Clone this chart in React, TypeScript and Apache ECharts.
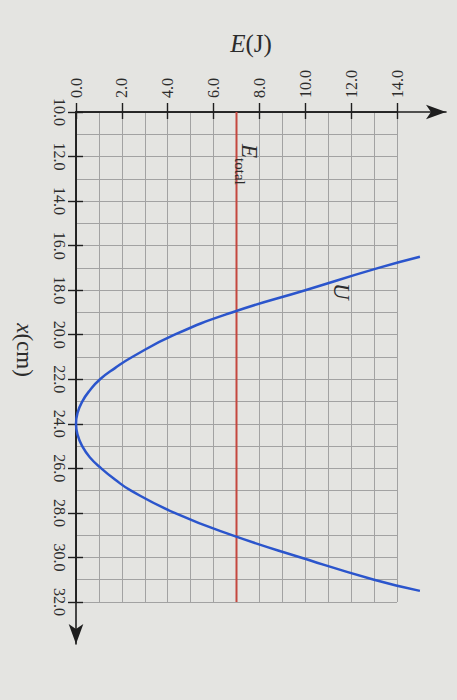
import React, { useEffect, useRef } from "react";
import * as echarts from "echarts";

// x position (cm) and potential energy U (J)
const X_CM = [16.5, 17, 18, 19, 20, 21, 21.5, 22, 22.5, 23, 23.5, 24, 24.5, 25, 25.5, 26, 26.5, 27, 28, 29, 30, 31, 31.5];
const U_J = [15.0, 13.2, 10.0, 6.8, 4.3, 2.45, 1.7, 1.05, 0.6, 0.27, 0.07, 0, 0.07, 0.27, 0.6, 1.1, 1.7, 2.4, 4.3, 6.8, 9.8, 13.0, 15.0];
const E_TOTAL = 7;
const X_RANGE = [10, 32];
const E_RANGE = [0, 14];
const TICK_STEP = 2;

const SERIF = "'Liberation Serif', 'DejaVu Serif', serif";
const INK = "#1e1e1e";

// plot box and the longer box the arrowed axis lines run through
const PLOT = { left: 76, top: 112, width: 321, height: 490 };
const ARROW_W = 370;
const ARROW_H = 532;

export default function App() {
  const ref = useRef<HTMLDivElement>(null);

  useEffect(() => {
    if (!ref.current) return;
    const chart = echarts.init(ref.current, null, { renderer: "svg" });

    const fmt = (v: number) => v.toFixed(1);
    const gridColor = "#a2a2a2";

    const uData = X_CM.map((x, i) => [U_J[i], x]);
    const eData = X_RANGE.map((x) => [E_TOTAL, x]);

    // same scale as the plot box, extended to the arrow box
    const eMaxOuter = E_RANGE[0] + ((E_RANGE[1] - E_RANGE[0]) * ARROW_W) / PLOT.width;
    const xMaxOuter = X_RANGE[0] + ((X_RANGE[1] - X_RANGE[0]) * ARROW_H) / PLOT.height;

    const labelStyle = {
      fontFamily: SERIF,
      fontSize: 16,
      color: "#2c2c2c",
    };

    chart.setOption({
      animation: false,
      backgroundColor: "#e4e4e1",
      grid: [
        { ...PLOT, outerBoundsMode: "none" },
        { left: PLOT.left, top: PLOT.top, width: ARROW_W, height: ARROW_H, outerBoundsMode: "none" },
      ],
      xAxis: [
        {
          gridIndex: 0,
          type: "value",
          position: "top",
          min: E_RANGE[0],
          max: E_RANGE[1],
          interval: TICK_STEP,
          axisLine: { show: true, lineStyle: { color: INK, width: 1.6 } },
          axisTick: { show: true, length: 9, lineStyle: { color: INK, width: 1.4 } },
          axisLabel: { ...labelStyle, rotate: -90, margin: 14, formatter: fmt },
          splitLine: { show: true, lineStyle: { color: gridColor, width: 1 } },
          minorTick: { show: false, splitNumber: 2 },
          minorSplitLine: { show: true, lineStyle: { color: gridColor, width: 1 } },
        },
        {
          gridIndex: 0,
          type: "value",
          position: "top",
          min: E_RANGE[0],
          max: E_RANGE[1],
          interval: TICK_STEP,
          axisLine: { show: false },
          axisTick: { show: true, inside: true, length: 7, lineStyle: { color: INK, width: 1.4 } },
          axisLabel: { show: false },
          splitLine: { show: false },
        },
        {
          gridIndex: 1,
          type: "value",
          position: "top",
          min: E_RANGE[0],
          max: eMaxOuter,
          axisLine: {
            show: true,
            symbol: ["none", "arrow"],
            symbolSize: [11, 20],
            lineStyle: { color: INK, width: 1.6 },
          },
          axisTick: { show: false },
          axisLabel: { show: false },
          splitLine: { show: false },
        },
      ],
      yAxis: [
        {
          gridIndex: 0,
          type: "value",
          inverse: true,
          position: "left",
          min: X_RANGE[0],
          max: X_RANGE[1],
          interval: TICK_STEP,
          axisLine: { show: true, lineStyle: { color: INK, width: 1.6 } },
          axisTick: { show: true, length: 8, lineStyle: { color: INK, width: 1.4 } },
          axisLabel: { ...labelStyle, rotate: -90, margin: 9, formatter: fmt },
          splitLine: { show: true, lineStyle: { color: gridColor, width: 1 } },
          minorTick: { show: false, splitNumber: 2 },
          minorSplitLine: { show: true, lineStyle: { color: gridColor, width: 1 } },
        },
        {
          gridIndex: 0,
          type: "value",
          inverse: true,
          position: "left",
          min: X_RANGE[0],
          max: X_RANGE[1],
          interval: TICK_STEP,
          axisLine: { show: false },
          axisTick: { show: true, inside: true, length: 7, lineStyle: { color: INK, width: 1.4 } },
          axisLabel: { show: false },
          splitLine: { show: false },
        },
        {
          gridIndex: 1,
          type: "value",
          inverse: true,
          position: "left",
          min: X_RANGE[0],
          max: xMaxOuter,
          axisLine: {
            show: true,
            symbol: ["arrow", "none"],
            symbolSize: [11, 20],
            lineStyle: { color: INK, width: 1.6 },
          },
          axisTick: { show: false },
          axisLabel: { show: false },
          splitLine: { show: false },
        },
      ],
      series: [
        {
          name: "Etotal",
          type: "line",
          xAxisIndex: 0,
          yAxisIndex: 0,
          data: eData,
          showSymbol: false,
          lineStyle: { color: "#c4473f", width: 2 },
          markPoint: {
            symbol: "circle",
            symbolSize: 0,
            data: [{ coord: [7.45, 12.35] }],
            label: {
              show: true,
              position: "inside",
              rotate: -90,
              formatter: "{e|E}{s|total}",
              rich: {
                e: {
                  fontFamily: SERIF,
                  fontStyle: "italic",
                  fontSize: 23,
                  color: "#2c2c2c",
                  verticalAlign: "bottom",
                  padding: [0, 0, 5, 0],
                },
                s: {
                  fontFamily: SERIF,
                  fontSize: 15,
                  color: "#2c2c2c",
                  verticalAlign: "bottom",
                },
              },
            },
          },
        },
        {
          name: "U",
          type: "line",
          xAxisIndex: 2,
          yAxisIndex: 2,
          data: uData,
          smooth: 0.5,
          showSymbol: false,
          lineStyle: { color: "#2b55cc", width: 2.5 },
          markPoint: {
            symbol: "circle",
            symbolSize: 0,
            data: [{ coord: [11.6, 18.05] }],
            label: {
              show: true,
              position: "inside",
              rotate: -90,
              formatter: "U",
              fontFamily: SERIF,
              fontStyle: "italic",
              fontSize: 23,
              color: "#2c2c2c",
            },
          },
        },
      ],
      graphic: [
        {
          type: "text",
          x: 251,
          y: 43,
          style: {
            text: "{i|E}{n|(J)}",
            align: "center",
            verticalAlign: "middle",
            rich: {
              i: { fontFamily: SERIF, fontStyle: "italic", fontSize: 25, fill: "#2c2c2c" },
              n: { fontFamily: SERIF, fontSize: 25, fill: "#2c2c2c" },
            },
          },
        },
        {
          type: "text",
          x: 24,
          y: 350,
          rotation: -Math.PI / 2,
          style: {
            text: "{i|x}{n|(cm)}",
            align: "center",
            verticalAlign: "middle",
            rich: {
              i: { fontFamily: SERIF, fontStyle: "italic", fontSize: 23, fill: "#2c2c2c" },
              n: { fontFamily: SERIF, fontSize: 23, fill: "#2c2c2c" },
            },
          },
        },
      ],
    });

    return () => chart.dispose();
  }, []);

  return (
    <div
      ref={ref}
      style={{
        position: "fixed",
        left: 0,
        top: 0,
        width: 457,
        height: 700,
        background: "#e4e4e1",
      }}
    />
  );
}
